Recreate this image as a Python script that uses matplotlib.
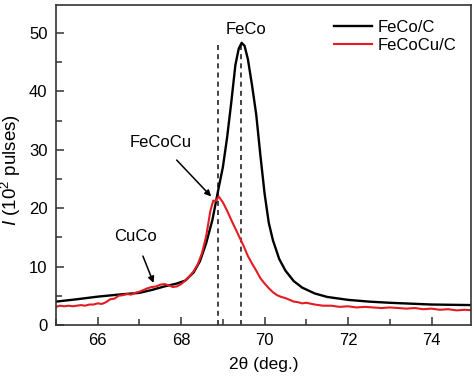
import matplotlib
matplotlib.use("Agg")
import matplotlib.pyplot as plt
from matplotlib.ticker import MultipleLocator

plt.rcParams['font.family'] = ['Liberation Sans', 'DejaVu Sans']
plt.rcParams['mathtext.fontset'] = 'custom'
plt.rcParams['mathtext.rm'] = 'Liberation Sans'
plt.rcParams['mathtext.it'] = 'Liberation Sans:italic'

# FeCo/C
feco_x = [65.0, 65.5, 66.0, 66.5, 67.0, 67.3, 67.6, 67.9, 68.1, 68.3, 68.45, 68.6,
          68.75, 68.9, 69.0, 69.1, 69.2, 69.3, 69.38, 69.45, 69.52, 69.6, 69.7, 69.8,
          69.9, 70.0, 70.1, 70.2, 70.35, 70.5, 70.7, 70.9, 71.2, 71.5, 72.0, 72.5,
          73.0, 73.5, 74.0, 74.5, 75.0]
feco_y = [4.0, 4.4, 4.85, 5.2, 5.5, 6.0, 6.6, 7.1, 7.6, 9.0, 10.9, 14.0,
          18.0, 23.5, 27.0, 32.0, 38.0, 44.5, 47.3, 48.3, 47.8, 45.5, 41.0, 36.0,
          29.0, 22.5, 17.5, 14.5, 11.3, 9.3, 7.5, 6.4, 5.4, 4.8, 4.3, 4.0,
          3.8, 3.65, 3.5, 3.45, 3.4]

# FeCoCu/C
fecocu_x = [65.0, 65.1, 65.2, 65.3, 65.4, 65.5, 65.6, 65.7, 65.8, 65.9, 66.0, 66.1,
            66.2, 66.3, 66.4, 66.5, 66.6, 66.7, 66.8, 66.9, 67.0, 67.1, 67.2, 67.3,
            67.4, 67.5, 67.6, 67.7, 67.8, 67.9, 68.0, 68.1, 68.2, 68.3, 68.4, 68.5,
            68.6, 68.7, 68.77, 68.83, 68.9, 69.0, 69.1, 69.2, 69.3, 69.4, 69.5, 69.6,
            69.7, 69.8, 69.9, 70.0, 70.1, 70.2, 70.3, 70.4, 70.5, 70.6, 70.7, 70.8,
            70.9, 71.0, 71.2, 71.4, 71.6, 71.8, 72.0, 72.2, 72.4, 72.6, 72.8, 73.0,
            73.2, 73.4, 73.6, 73.8, 74.0, 74.2, 74.4, 74.6, 74.8, 75.0]
fecocu_y = [3.1, 3.3, 3.2, 3.3, 3.2, 3.3, 3.4, 3.3, 3.5, 3.5, 3.7, 3.6,
            3.9, 4.4, 4.5, 5.0, 5.1, 5.3, 5.2, 5.5, 5.7, 6.0, 6.3, 6.5,
            6.6, 6.9, 7.0, 6.8, 6.5, 6.6, 7.0, 7.6, 8.3, 9.2, 10.4, 12.3,
            15.2, 19.5, 21.3, 21.2, 22.0, 21.0, 19.6, 18.0, 16.5, 15.0, 13.5, 11.8,
            10.5, 9.3, 8.0, 7.1, 6.3, 5.6, 5.1, 4.8, 4.6, 4.3, 4.0, 3.9,
            3.7, 3.8, 3.5, 3.3, 3.3, 3.1, 3.2, 3.0, 3.1, 3.0, 2.9, 3.0,
            2.9, 2.8, 2.9, 2.7, 2.8, 2.6, 2.7, 2.5, 2.6, 2.5]

peak_pos = [68.88, 69.43]

fig = plt.figure(figsize=(4.74, 3.77), dpi=100)
ax = fig.add_axes([0.118, 0.138, 0.876, 0.849])

for xp in peak_pos:
    ax.plot([xp, xp], [0, 48.5], color='#222222', lw=1.2, ls=(0, (3, 2.5)))

ax.plot(feco_x, feco_y, color='black', lw=1.7, label='FeCo/C')
ax.plot(fecocu_x, fecocu_y, color='#e41b23', lw=1.5, label='FeCoCu/C')

ax.text(69.55, 50.6, 'FeCo', ha='center', va='center', fontsize=12)
ax.annotate('FeCoCu', xy=(68.72, 22.0), xytext=(67.5, 31.2), ha='center', va='center',
            fontsize=12, arrowprops=dict(arrowstyle='-|>', color='black', lw=1.1,
                                         shrinkA=7, shrinkB=0, mutation_scale=9))
ax.annotate('CuCo', xy=(67.34, 7.2), xytext=(66.9, 15.1), ha='center', va='center',
            fontsize=12, arrowprops=dict(arrowstyle='-|>', color='black', lw=1.1,
                                         shrinkA=7, shrinkB=0, mutation_scale=9))

ax.set_xlim(65, 74.95)
ax.set_ylim(0, 54.8)
ax.xaxis.set_major_locator(MultipleLocator(2))
ax.xaxis.set_minor_locator(MultipleLocator(1))
ax.yaxis.set_major_locator(MultipleLocator(10))
ax.yaxis.set_minor_locator(MultipleLocator(5))
ax.tick_params(which='both', direction='in', top=False, right=False, labelsize=12,
               color='#333333', width=1.1)
ax.tick_params(which='major', length=6, pad=6)
ax.tick_params(which='minor', length=4)
for s in ax.spines.values():
    s.set_color('#333333')
    s.set_linewidth(1.2)

ax.set_xlabel('2θ (deg.)', fontsize=12.5, labelpad=6)
ax.set_ylabel('$I$ (10$^2$ pulses)', fontsize=13.5, va='center')
ax.yaxis.set_label_coords(-0.108, 0.484)

ax.legend(loc='upper right', frameon=False, fontsize=12, handlelength=2.3,
          handletextpad=0.3, borderaxespad=0.5, labelspacing=0.2)

fig.savefig('out.png', dpi=100)
